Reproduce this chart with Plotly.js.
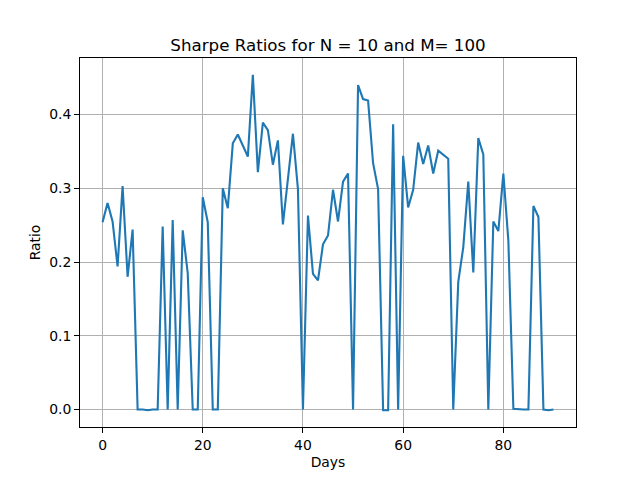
<!DOCTYPE html>
<html>
<head>
<meta charset="utf-8">
<script src="https://cdn.plot.ly/plotly-3.0.1.min.js"></script>
<style>html,body{margin:0;padding:0;background:#fff;}#chart{width:640px;height:480px;}</style>
</head>
<body>
<div id="chart"></div>
<script>
const days = Array.from({length: 91}, (_, i) => i);
const ratios = [
  0.254, 0.280, 0.255, 0.194, 0.303, 0.180, 0.244, 0.000, 0.000, -0.001,
  0.000, 0.000, 0.248, 0.000, 0.257, 0.000, 0.243, 0.185, 0.000, 0.000,
  0.288, 0.254, 0.000, 0.000, 0.300, 0.273, 0.361, 0.373, 0.358, 0.343,
  0.454, 0.322, 0.389, 0.379, 0.332, 0.365, 0.251, 0.317, 0.374, 0.299,
  0.000, 0.263, 0.184, 0.175, 0.224, 0.236, 0.298, 0.255, 0.309, 0.320,
  0.000, 0.440, 0.421, 0.419, 0.334, 0.299, -0.001, -0.001, 0.387, 0.000,
  0.344, 0.274, 0.298, 0.362, 0.333, 0.358, 0.320, 0.351, 0.346, 0.340,
  0.000, 0.173, 0.220, 0.309, 0.186, 0.368, 0.346, 0.000, 0.255, 0.242,
  0.320, 0.229, 0.001, 0.000, 0.000, 0.000, 0.276, 0.261, 0.000, -0.001,
  0.000
];
const xTicks = [0, 20, 40, 60, 80];
const yTicks = [0.0, 0.1, 0.2, 0.3, 0.4];
const titleText = "Sharpe Ratios for N = 10 and M= 100";
const xLabel = "Days";
const yLabel = "Ratio";

const font = "DejaVu Sans, sans-serif";
const axisCommon = {
  showline: true, mirror: true, linecolor: '#000', linewidth: 1,
  ticks: 'outside', ticklen: 5, tickwidth: 1, tickcolor: '#000',
  showgrid: true, gridcolor: '#b0b0b0', gridwidth: 1,
  zeroline: false,
  tickfont: {family: font, size: 13.9, color: '#000'}
};
const layout = {
  width: 640, height: 480,
  margin: {l: 80, r: 64, t: 58, b: 53},
  paper_bgcolor: '#fff', plot_bgcolor: '#fff',
  showlegend: false,
  title: {text: titleText, font: {family: font, size: 16.7, color: '#000'},
          x: 0.5, xref: 'paper', y: 1, yref: 'paper', yanchor: 'bottom', pad: {b: 7}},
  xaxis: Object.assign({}, axisCommon, {
    range: [-4.5, 94.5], tickvals: xTicks, ticktext: xTicks.map(String),
    title: {text: xLabel, font: {family: font, size: 13.9, color: '#000'}, standoff: 5}
  }),
  yaxis: Object.assign({}, axisCommon, {
    range: [-0.0237, 0.4767], tickvals: yTicks, ticktext: yTicks.map(v => v.toFixed(1)),
    title: {text: yLabel, font: {family: font, size: 13.9, color: '#000'}, standoff: 5}
  })
};
Plotly.newPlot('chart', [{
  x: days, y: ratios, type: 'scatter', mode: 'lines',
  line: {color: '#1f77b4', width: 2.1}
}], layout, {staticPlot: true, displayModeBar: false});
</script>
</body>
</html>
